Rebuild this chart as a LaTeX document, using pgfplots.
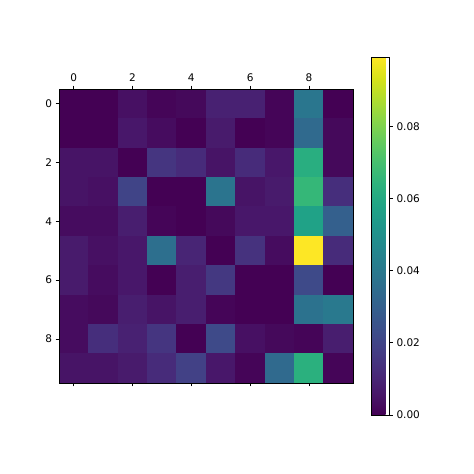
\documentclass[border=0pt]{standalone}
\usepackage{pgfplots}
\pgfplotsset{compat=1.18}
\usepackage{fontspec}
\setmainfont{DejaVu Sans}
\begin{document}
\fontsize{10.5bp}{12bp}\selectfont
\begin{tikzpicture}
\path[use as bounding box] (0,0) rectangle (474bp,474bp);
\begin{axis}[
  at={(59bp,91bp)}, anchor=south west,
  scale only axis, width=294bp, height=294bp,
  xmin=-0.5, xmax=9.5, ymin=-0.5, ymax=9.5,
  y dir=reverse, axis on top,
  xtick={0,2,4,6,8}, ytick={0,2,4,6,8},
  xtick pos=both, xticklabel pos=top, ytick pos=left,
  tick align=outside, major tick length=3.3bp,
  every tick/.style={black, line width=0.7bp},
  axis line style={line width=0.7bp},
  /pgf/number format/assume math mode=true,
  tick label style={font=\fontsize{10.5bp}{12bp}\selectfont},
  colormap/viridis,
  point meta min=0, point meta max=0.0992,
  colorbar,
  colorbar style={
    at={(parent axis.south east)}, anchor=south west,
    xshift=10bp, yshift=-32bp,
    scale only axis, width=18bp, height=358bp,
    ytick={0,0.02,0.04,0.06,0.08},
    yticklabel style={/pgf/number format/.cd, fixed, fixed zerofill, precision=2, assume math mode=true},
    yticklabel pos=right, ytick pos=right,
    tick align=outside, major tick length=3.3bp,
    axis line style={line width=0.7bp},
    tick label style={font=\fontsize{10.5bp}{12bp}\selectfont},
    scaled y ticks=false,
  },
]
\addplot[matrix plot*, mesh/cols=10, point meta=explicit] table[meta=c] {
x y c
0 0 0.000
1 0 0.000
2 0 0.004
3 0 0.001
4 0 0.002
5 0 0.009
6 0 0.009
7 0 0.001
8 0 0.039
9 0 0.000
0 1 0.000
1 1 0.000
2 1 0.006
3 1 0.003
4 1 0.000
5 1 0.007
6 1 0.000
7 1 0.001
8 1 0.034
9 1 0.002
0 2 0.005
1 2 0.005
2 2 0.000
3 2 0.015
4 2 0.012
5 2 0.005
6 2 0.012
7 2 0.006
8 2 0.062
9 2 0.002
0 3 0.005
1 3 0.004
2 3 0.020
3 3 0.000
4 3 0.000
5 3 0.038
6 3 0.005
7 3 0.007
8 3 0.066
9 3 0.013
0 4 0.003
1 4 0.003
2 4 0.008
3 4 0.001
4 4 0.000
5 4 0.002
6 4 0.006
7 4 0.006
8 4 0.057
9 4 0.030
0 5 0.007
1 5 0.004
2 5 0.006
3 5 0.036
4 5 0.010
5 5 0.000
6 5 0.014
7 5 0.003
8 5 0.0992
9 5 0.012
0 6 0.007
1 6 0.003
2 6 0.006
3 6 0.000
4 6 0.008
5 6 0.016
6 6 0.000
7 6 0.000
8 6 0.022
9 6 0.000
0 7 0.003
1 7 0.002
2 7 0.008
3 7 0.005
4 7 0.008
5 7 0.001
6 7 0.000
7 7 0.000
8 7 0.037
9 7 0.040
0 8 0.003
1 8 0.013
2 8 0.009
3 8 0.015
4 8 0.000
5 8 0.022
6 8 0.004
7 8 0.002
8 8 0.001
9 8 0.008
0 9 0.005
1 9 0.005
2 9 0.007
3 9 0.012
4 9 0.019
5 9 0.006
6 9 0.001
7 9 0.034
8 9 0.063
9 9 0.001
};
\end{axis}
\end{tikzpicture}
\end{document}
